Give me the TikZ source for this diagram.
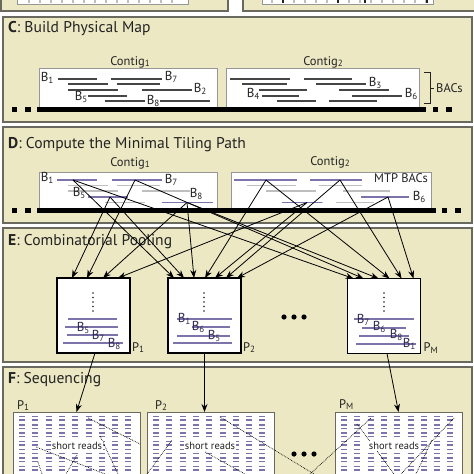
\documentclass[tikz,border=0pt]{standalone}
\usepackage{fontspec}
\setmainfont{PT Sans}
\usetikzlibrary{arrows.meta,positioning,calc}

\definecolor{panelbg}{RGB}{235,232,195}
\definecolor{panelln}{RGB}{105,105,95}
\definecolor{bacgray}{RGB}{70,70,70}
\definecolor{mtppurple}{RGB}{125,114,170}
\definecolor{ltgray}{RGB}{190,190,190}
\definecolor{boxln}{RGB}{150,150,150}
\definecolor{txtdark}{RGB}{35,35,35}
\definecolor{pooltxt}{RGB}{45,42,80}

\newcommand{\subn}[1]{\raisebox{-0.25ex}{\fontsize{9}{9}\selectfont #1}}

\begin{document}
\begin{tikzpicture}[x=1pt, y=-1pt,
  >={Stealth[length=8pt,width=6pt]},
  panel/.style={draw=panelln, line width=1.2pt, fill=panelbg},
  ttl/.style={anchor=west, inner sep=0pt, text=txtdark, font=\fontsize{15.6}{17}\selectfont},
  ctg/.style={draw=boxln, line width=0.6pt, fill=white},
  bac/.style={draw=bacgray, line width=1.1pt},
  mtp/.style={draw=mtppurple, line width=1.8pt},
  oth/.style={draw=ltgray, line width=1.3pt},
  blbl/.style={inner sep=0pt, text=txtdark, font=\fontsize{13}{13}\selectfont},
  clbl/.style={inner sep=0pt, text=txtdark, font=\fontsize{12.5}{13}\selectfont},
  plbl/.style={inner sep=0pt, text=pooltxt, font=\fontsize{13}{13}\selectfont},
  pool/.style={draw=black, line width=1.4pt, fill=white, minimum width=73pt, minimum height=75pt, outer sep=0pt},
  link/.style={->, black, line width=0.8pt},
  seqbox/.style={draw=panelln, line width=0.8pt, fill=white, minimum width=127pt, minimum height=70pt, anchor=north west, outer sep=0pt},
  rd/.style={draw=mtppurple, line width=1.4pt},
  rdlink/.style={densely dotted, black, line width=0.7pt},
  srd/.style={fill=white, inner sep=1pt, text=txtdark, font=\fontsize{10.5}{11}\selectfont}]

\useasboundingbox (0,0) rectangle (474,474);
\clip (0,0) rectangle (474,474);

% A, B (angeschnitten)
\draw[panel] (1,-5) rectangle (228,11);
\draw[panel] (243,-5) rectangle (476,11);
\draw[ctg] (17,-5) rectangle (188,4);
\draw[ctg] (262,-5) rectangle (433,4);
\foreach \x in {29,40,...,180} \fill[ltgray] (\x-0.8,-0.5) rectangle (\x+0.8,2.5);
\foreach \x in {272,283,...,427} \fill[ltgray] (\x-0.8,-0.5) rectangle (\x+0.8,2.5);
\foreach \x in {283,338,365,427} \fill[txtdark] (\x-0.8,-0.5) rectangle (\x+0.8,2.5);

% C
\draw[panel] (3,17) rectangle (472,122);
\node[ttl] (ttlC) at (8,29) {\textbf{C}: Build Physical Map};
\node[clbl] (ctgC1) at (130,62) {Contig\subn{1}};
\node[clbl] (ctgC2) at (323,62) {Contig\subn{2}};
\draw[ctg] (39,68) rectangle (217,107);
\draw[ctg] (226,68) rectangle (419,107);
\foreach \xa/\xb/\y in {58/97/79, 111/162/79, 68/108/84, 117/160/84, 68/118/90, 142/192/90,
    88/127/96, 105/145/101, 160/210/101, 230/290/79, 304/352/79, 242/287/84, 316/366/84,
    259/307/90, 339/389/90, 262/299/96, 352/402/96, 277/316/101, 329/377/101}
  \draw[bac] (\xa,\y) -- (\xb,\y);
\node[blbl] (cB1) at (47,78) {B\subn{1}};
\node[blbl] (cB7) at (171,77) {B\subn{7}};
\node[blbl] (cB2) at (200,89) {B\subn{2}};
\node[blbl] (cB5) at (81,97) {B\subn{5}};
\node[blbl] (cB8) at (153,101) {B\subn{8}};
\node[blbl] (cB3) at (375,83) {B\subn{3}};
\node[blbl] (cB4) at (253,94) {B\subn{4}};
\node[blbl] (cB6) at (411,94) {B\subn{6}};
\fill (37,107) rectangle (426,112);
\fill (12,107) rectangle (17,112);
\fill (25,107) rectangle (31,112);
\fill (433,107) rectangle (438,112);
\fill (446,107) rectangle (452,112);
\draw[line width=1pt, txtdark] (424,72) -- (430,72) -- (430,103) -- (424,103);
\draw[line width=1pt, txtdark] (430,88) -- (434,88);
\node[clbl, anchor=west] (bacs) at (436,88) {BACs};

% D
\draw[panel] (3,127) rectangle (472,223);
\node[ttl] (ttlD) at (8,145) {\textbf{D}: Compute the Minimal Tiling Path};
\node[clbl] (ctgD1) at (130,163) {Contig\subn{1}};
\node[clbl] (ctgD2) at (330,162) {Contig\subn{2}};
\draw[ctg] (39,172) rectangle (217,208);
\draw[ctg] (231,172) rectangle (431,208);
\foreach \xa/\xb/\y in {68/108/185.5, 117/160/185.5, 68/118/191, 142/190/191, 105/145/202.5,
    247/296/185.5, 319/362/185.5, 266/316/191, 343/390/191, 300/323/202.5, 336/374/202.5}
  \draw[oth] (\xa,\y) -- (\xb,\y);
\foreach \xa/\xb/\y in {57/97/180, 112/162/180, 88/128/197, 162/213/202.5,
    234/297/180, 310/362/180, 361/409/197, 282/322/202.5}
  \draw[mtp] (\xa,\y) -- (\xb,\y);
\node[blbl] (dB1) at (47,178) {B\subn{1}};
\node[blbl] (dB7) at (171,180) {B\subn{7}};
\node[blbl] (dB5) at (79,193) {B\subn{5}};
\node[blbl] (dB8) at (196,194) {B\subn{8}};
\node[clbl] (mtp) at (401,178) {MTP BACs};
\node[blbl] (dB6) at (419,197) {B\subn{6}};
\fill (37,208) rectangle (436,213);
\fill (12,208) rectangle (17,213);
\fill (25,208) rectangle (31,213);
\fill (442,208) rectangle (447,213);
\fill (455,208) rectangle (461,213);
\coordinate (mB1) at (73,180);
\coordinate (mB7) at (135,180);
\coordinate (mB5) at (110,197);
\coordinate (mB8) at (187,202.5);
\coordinate (mC2a) at (266,180);
\coordinate (mC2b) at (340,180);
\coordinate (mC2c) at (307,202.5);
\coordinate (mB6) at (388,197);

% E
\draw[panel] (3,228) rectangle (472,362);
\node[ttl] (ttlE) at (8,242) {\textbf{E}: Combinatorial Pooling};
\node[pool] (pool1) at (93.5,315.5) {};
\node[pool] (pool2) at (204.5,315.5) {};
\node[pool] (poolM) at (384,316) {};
\node[clbl, above right=0pt and 2pt of pool1.south east] (lP1) {P\subn{1}};
\node[clbl, above right=0pt and 2pt of pool2.south east] (lP2) {P\subn{2}};
\node[clbl, above right=0pt and 3pt of poolM.south east] (lPM) {P\subn{M}};
\foreach \xx in {93,204,384}
  \foreach \yy in {293,297.5,302,306.5,311}
    \fill[txtdark] (\xx,\yy) circle (0.8);
\foreach \xa/\xb/\y in {68/117/319, 65/118/327, 67/118/335, 63/123/343,
    177/232/319, 192/230/327, 177/230/336, 173/232/343,
    354/414/319, 362/406/328, 359/409/336, 356/416/344}
  \draw[mtp] (\xa,\y) -- (\xb,\y);
\node[plbl] (p1B5) at (83,328) {B\subn{5}};
\node[plbl] (p1B7) at (98,336) {B\subn{7}};
\node[plbl] (p1B8) at (114,344) {B\subn{8}};
\node[plbl] (p2B1) at (184,319) {B\subn{1}};
\node[plbl] (p2B6) at (198,327) {B\subn{6}};
\node[plbl] (p2B5) at (214,336) {B\subn{5}};
\node[plbl] (pMB7) at (363,320) {B\subn{7}};
\node[plbl] (pMB6) at (379,327) {B\subn{6}};
\node[plbl] (pMB8) at (396,335) {B\subn{8}};
\node[plbl] (pMB1) at (409,344) {B\subn{1}};
\foreach \xx in {284,294,304} \fill (\xx,317) circle (2.6);

% F
\draw[panel] (3,367) rectangle (472,490);
\node[ttl] (ttlF) at (8,380) {\textbf{F}: Sequencing};
\node[seqbox] (seq1) at (13,412) {};
\node[seqbox] (seq2) at (147,412) {};
\node[seqbox] (seqM) at (335,412) {};
\node[clbl, above right=1pt and 4pt of seq1.north west] (sP1) {P\subn{1}};
\node[clbl, above right=1pt and 8pt of seq2.north west] (sP2) {P\subn{2}};
\node[clbl, above right=2pt and 4pt of seqM.north west] (sPM) {P\subn{M}};
\foreach \bx in {13,147,335}
  \foreach \c in {0,...,8}
    \foreach \r in {0,...,7} {
      \draw[rd] ({\bx+6+13.3*\c},{416.5+8.3*\r}) -- ++(6,0);
      \draw[rd] ({\bx+6+13.3*\c},{420.1+8.3*\r}) -- ++(6,0);
    }
\foreach \xa/\ya/\xb/\yb in {88/418/140/444, 36/447/105/474, 100/436/118/474, 77/455/66/474,
    38/462/42/474, 147/474/172/440, 220/417/314/474, 205/452/245/474, 310/474/371/418,
    357/424/394/474, 454/418/401/474, 432/440/416/474}
  \draw[rdlink] (\xa,\ya) -- (\xb,\yb);
\node[srd] (sr1) at (77,446) {short reads};
\node[srd] (sr2) at (210,446) {short reads};
\node[srd] (srM) at (394,446) {short reads};
\foreach \xx in {294,304,314} \fill (\xx,454) circle (2.6);

% Verbindungen
\foreach \s/\p/\d in {mB5/pool1/15, mB7/pool1/30, mB8/pool1/46, mC2c/pool1/61,
    mB1/pool2/6, mB5/pool2/16, mB8/pool2/26, mC2a/pool2/37, mC2c/pool2/47, mC2b/pool2/58, mB6/pool2/69,
    mB1/poolM/6, mB7/poolM/16, mB8/poolM/31, mC2a/poolM/42, mC2b/poolM/54, mB6/poolM/66}
  \draw[link] (\s) -- ([xshift=\d pt]\p.north west);
\draw[link] ([xshift=1.5pt]pool1.south) -- (seq1.north);
\draw[link] (pool2.south) -- ([xshift=-6pt]seq2.north);
\draw[link] ([xshift=3pt]poolM.south) -- (seqM.north);
\end{tikzpicture}
\end{document}
